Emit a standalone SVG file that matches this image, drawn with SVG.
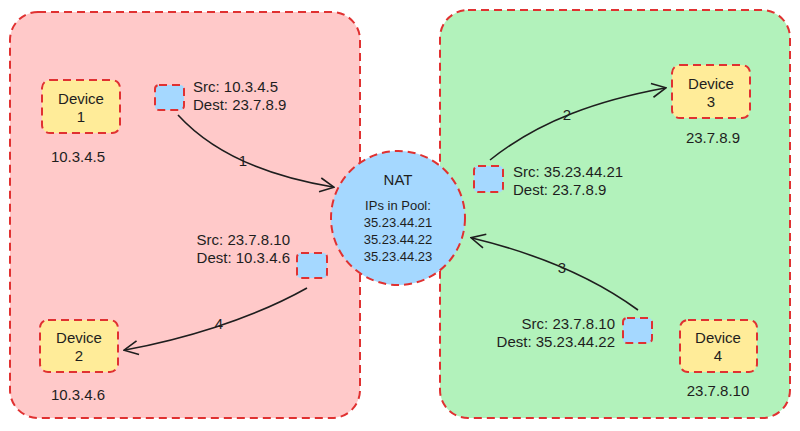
<svg xmlns="http://www.w3.org/2000/svg" width="800" height="431" viewBox="0 0 800 431">
<style>
.d{stroke:#e03131;stroke-width:2;stroke-dasharray:8 5}
.dev{fill:#ffec99}
.pk{fill:#a5d8ff}
text{font-family:"Liberation Sans",sans-serif;font-size:15px;fill:#1e1e1e}
.c{text-anchor:middle}
.e{text-anchor:end}
.ln{fill:none;stroke:#1e1e1e;stroke-width:1.6;marker-end:url(#a)}
</style>
<defs><marker id="a" markerWidth="16" markerHeight="16" refX="14" refY="8" orient="auto" markerUnits="userSpaceOnUse"><path d="M1,1 L15,8 L1,15" fill="none" stroke="#1e1e1e" stroke-width="1.6"/></marker></defs>
<g id="left-zone"><rect class="d" x="10" y="12" width="350" height="406" rx="28" fill="#ffc9c9"/></g>
<g id="right-zone"><rect class="d" x="440" y="10" width="350" height="408" rx="28" fill="#b2f2bb"/></g>
<g id="connectors">
<path class="ln" d="M178,115 C210,150 260,175 333,187"/>
<path class="ln" d="M490,160 C540,120 600,100 665,88"/>
<path class="ln" d="M638,310 C590,275 530,252 472,238"/>
<path class="ln" d="M307,288 C250,320 180,340 125,350"/>
<text class="c" x="243" y="166">1</text>
<text class="c" x="567" y="120">2</text>
<text class="c" x="562" y="273">3</text>
<text class="c" x="219" y="329">4</text>
</g>
<g id="device1"><rect class="d dev" x="42" y="80" width="78" height="53" rx="8"/><text class="c" x="81" y="104">Device</text><text class="c" x="81" y="122">1</text><text class="c" x="78" y="162">10.3.4.5</text></g>
<g id="packet1"><rect class="d pk" x="155" y="85" width="29" height="25" rx="4"/><text x="193" y="92">Src: 10.3.4.5</text><text x="193" y="110">Dest: 23.7.8.9</text></g>
<g id="device2"><rect class="d dev" x="40" y="320" width="78" height="52" rx="8"/><text class="c" x="79" y="343">Device</text><text class="c" x="79" y="361">2</text><text class="c" x="78" y="400">10.3.4.6</text></g>
<g id="packet4"><rect class="d pk" x="297" y="253" width="30" height="25" rx="4"/><text class="e" x="290" y="245">Src: 23.7.8.10</text><text class="e" x="290" y="263">Dest: 10.3.4.6</text></g>
<g id="nat"><circle class="d pk" cx="398" cy="218" r="67"/><text class="c" x="398" y="185">NAT</text><text class="c" x="398" y="210" style="font-size:13px">IPs in Pool:</text><text class="c" x="398" y="227" style="font-size:13px">35.23.44.21</text><text class="c" x="398" y="244" style="font-size:13px">35.23.44.22</text><text class="c" x="398" y="261" style="font-size:13px">35.23.44.23</text></g>
<g id="device3"><rect class="d dev" x="672" y="65" width="78" height="53" rx="8"/><text class="c" x="711" y="89">Device</text><text class="c" x="711" y="107">3</text><text class="c" x="713" y="143">23.7.8.9</text></g>
<g id="packet2"><rect class="d pk" x="474" y="166" width="29" height="26" rx="4"/><text x="513" y="177">Src: 35.23.44.21</text><text x="513" y="195">Dest: 23.7.8.9</text></g>
<g id="device4"><rect class="d dev" x="680" y="320" width="77" height="52" rx="8"/><text class="c" x="718" y="343">Device</text><text class="c" x="718" y="361">4</text><text class="c" x="718" y="396">23.7.8.10</text></g>
<g id="packet3"><rect class="d pk" x="623" y="318" width="29" height="25" rx="4"/><text class="e" x="615" y="329">Src: 23.7.8.10</text><text class="e" x="615" y="347">Dest: 35.23.44.22</text></g>
</svg>
